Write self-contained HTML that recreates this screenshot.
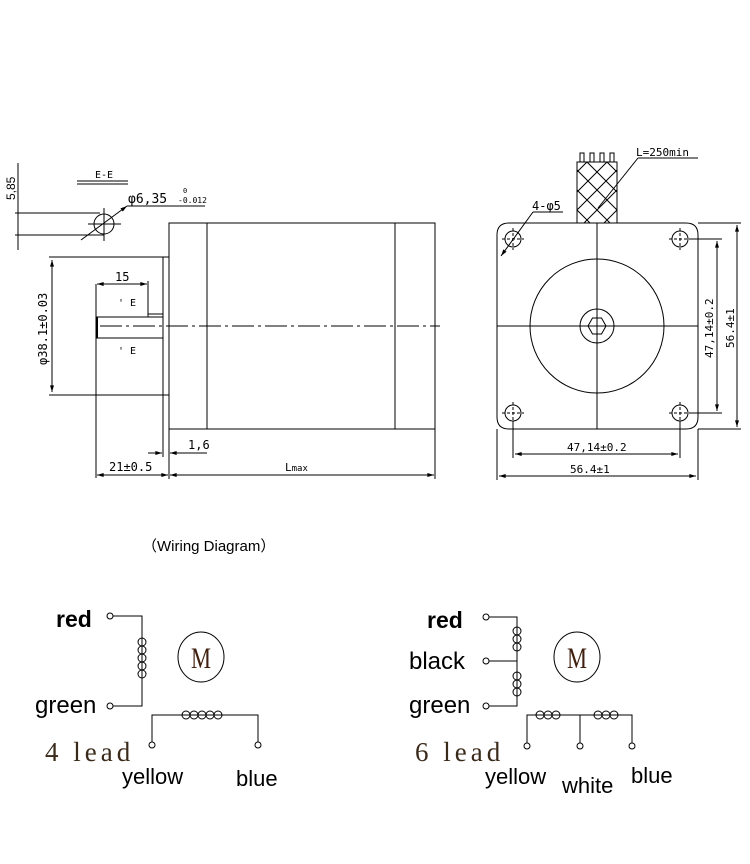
<!DOCTYPE html>
<html><head><meta charset="utf-8"><style>
html,body{margin:0;padding:0;background:#fff;}
svg{display:block;}
.d{font-family:"DejaVu Sans Mono","Liberation Mono",monospace;font-size:11px;fill:#000;}
.w{font-family:"Liberation Sans",Arial,sans-serif;fill:#000;}
.s{font-family:"Liberation Serif",serif;fill:#3a2a1a;}
</style></head><body>
<svg width="750" height="864" viewBox="0 0 750 864" xmlns="http://www.w3.org/2000/svg">
<defs>
<marker id="a" viewBox="0 0 10 6" refX="10" refY="3" markerWidth="8" markerHeight="4" orient="auto-start-reverse"><path d="M0,0 L10,3 L0,6z" fill="#000"/></marker>
</defs>
<g stroke="#000" stroke-width="1" fill="none">
<rect x="169" y="223" width="266" height="206"/>
<line x1="207" y1="223" x2="207" y2="429"/>
<line x1="395" y1="223" x2="395" y2="429"/>
<line x1="163" y1="257" x2="163" y2="395"/>
<line x1="163" y1="257" x2="169" y2="257"/>
<line x1="163" y1="395" x2="169" y2="395"/>
<path d="M163,317 H96 V338 H163 M148,317 V314 H163"/>
<line x1="97" y1="317" x2="97" y2="338" stroke-width="2"/>
<line x1="100" y1="326" x2="440" y2="326" stroke-dasharray="22,4,3,4"/>
<line x1="49" y1="257" x2="163" y2="257"/>
<line x1="49" y1="395" x2="163" y2="395"/>
<line x1="52" y1="260" x2="52" y2="392" marker-start="url(#a)" marker-end="url(#a)"/>
<line x1="96" y1="284" x2="96" y2="478"/>
<line x1="148" y1="281" x2="148" y2="314"/>
<line x1="97" y1="284" x2="147" y2="284" marker-start="url(#a)" marker-end="url(#a)"/>
<line x1="163" y1="395" x2="163" y2="457"/>
<line x1="169" y1="429" x2="169" y2="479"/>
<line x1="435" y1="429" x2="435" y2="479"/>
<line x1="148" y1="453" x2="162" y2="453" marker-end="url(#a)"/>
<line x1="170" y1="453" x2="207" y2="453" marker-start="url(#a)"/>
<line x1="97" y1="475" x2="168" y2="475" marker-start="url(#a)" marker-end="url(#a)"/>
<line x1="170" y1="475" x2="434" y2="475" marker-start="url(#a)" marker-end="url(#a)"/>
<line x1="77" y1="181" x2="128" y2="181"/>
<line x1="77" y1="184" x2="128" y2="184"/>
<line x1="18" y1="163" x2="18" y2="250"/>
<line x1="15" y1="213" x2="100" y2="213"/>
<line x1="15" y1="235" x2="104" y2="235"/>
<circle cx="104" cy="224" r="10"/>
<line x1="104" y1="208" x2="104" y2="241"/>
<line x1="88" y1="224" x2="121" y2="224"/>
<line x1="81" y1="240" x2="127" y2="206" marker-end="url(#a)"/>
<line x1="127" y1="206" x2="205" y2="206"/>
<path d="M509,223 H686 Q698,223 698,235 V417 Q698,429 686,429 H509 Q497,429 497,417 V235 Q497,223 509,223z"/>
<line x1="497" y1="326" x2="698" y2="326"/>
<line x1="597" y1="223" x2="597" y2="429"/>
<circle cx="597" cy="326" r="67"/>
<circle cx="597" cy="326" r="17"/>
<polygon points="606,326 601.5,334 592.5,334 588,326 592.5,318 601.5,318"/>
<circle cx="513" cy="239" r="8"/><circle cx="680" cy="239" r="8"/>
<circle cx="513" cy="413" r="8"/><circle cx="680" cy="413" r="8"/>
<path d="M502,239H524M513,228V250M669,239H691M680,228V250M502,413H524M513,402V424M669,413H691M680,402V424" stroke-dasharray="3,2"/>
<rect x="577" y="162" width="40" height="61"/>
<path d="M577,170 L617,210 M577,190 L610,223 M577,210 L590,223 M587,162 L617,192 M607,162 L617,172 M617,170 L577,210 M617,190 L584,223 M617,210 L604,223 M607,162 L577,192 M587,162 L577,172"/>
<path d="M580,162V153h4v9M590,162V153h4v9M600,162V153h4v9M610,162V153h4v9"/>
<line x1="598" y1="208" x2="638" y2="158"/>
<line x1="638" y1="158" x2="698" y2="158"/>
<line x1="501" y1="256" x2="533" y2="212" marker-start="url(#a)"/>
<line x1="533" y1="212" x2="563" y2="212"/>
<line x1="690" y1="239" x2="722" y2="239"/>
<line x1="690" y1="413" x2="722" y2="413"/>
<line x1="698" y1="223" x2="741" y2="223"/>
<line x1="698" y1="429" x2="741" y2="429"/>
<line x1="717" y1="241" x2="717" y2="411" marker-start="url(#a)" marker-end="url(#a)"/>
<line x1="737" y1="225" x2="737" y2="427" marker-start="url(#a)" marker-end="url(#a)"/>
<line x1="513" y1="421" x2="513" y2="458"/>
<line x1="680" y1="421" x2="680" y2="458"/>
<line x1="497" y1="429" x2="497" y2="480"/>
<line x1="698" y1="429" x2="698" y2="480"/>
<line x1="515" y1="454" x2="678" y2="454" marker-start="url(#a)" marker-end="url(#a)"/>
<line x1="499" y1="476" x2="696" y2="476" marker-start="url(#a)" marker-end="url(#a)"/>
<path d="M113,616 H142 V706 H113"/>
<circle cx="110" cy="616" r="3"/><circle cx="110" cy="706" r="3"/>
<circle cx="142" cy="642" r="4"/><circle cx="142" cy="650" r="4"/><circle cx="142" cy="658" r="4"/><circle cx="142" cy="666" r="4"/><circle cx="142" cy="674" r="4"/>
<ellipse cx="201" cy="657" rx="23" ry="25"/>
<path d="M152,742 V715 H258 V742"/>
<circle cx="152" cy="745" r="3"/><circle cx="258" cy="745" r="3"/>
<circle cx="186" cy="715" r="4"/><circle cx="194" cy="715" r="4"/><circle cx="202" cy="715" r="4"/><circle cx="210" cy="715" r="4"/><circle cx="218" cy="715" r="4"/>
<path d="M489,617 H517 V706 H489 M489,661 H517"/>
<circle cx="486" cy="617" r="3"/><circle cx="486" cy="661" r="3"/><circle cx="486" cy="706" r="3"/>
<circle cx="517" cy="631" r="4"/><circle cx="517" cy="639" r="4"/><circle cx="517" cy="647" r="4"/>
<circle cx="517" cy="676" r="4"/><circle cx="517" cy="684" r="4"/><circle cx="517" cy="692" r="4"/>
<ellipse cx="577" cy="657" rx="23" ry="25"/>
<path d="M527,743 V715 H632 V743 M580,715 V743"/>
<circle cx="527" cy="746" r="3"/><circle cx="580" cy="746" r="3"/><circle cx="632" cy="746" r="3"/>
<circle cx="540" cy="715" r="4"/><circle cx="548" cy="715" r="4"/><circle cx="556" cy="715" r="4"/>
<circle cx="598" cy="715" r="4"/><circle cx="606" cy="715" r="4"/><circle cx="614" cy="715" r="4"/>
</g>
<g class="d">
<text x="95" y="178" font-size="10">E-E</text>
<text x="128" y="203" font-size="13">φ6,35</text>
<text x="183" y="193" font-size="7">0</text>
<text x="178" y="203" font-size="8">-0.012</text>
<text transform="translate(15,200) rotate(-90)" font-family="Liberation Sans" font-size="12">5,85</text>
<text transform="translate(47,365) rotate(-90)" font-size="12">φ38.1±0.03</text>
<text x="115" y="281" font-size="12">15</text>
<text x="118" y="306" font-size="10">' E</text>
<text x="118" y="354" font-size="10">' E</text>
<text x="188" y="449" font-size="12">1,6</text>
<text x="109" y="471" font-size="12">21±0.5</text>
<text x="285" y="471" font-size="11">L<tspan font-size="9">max</tspan></text>
<text x="636" y="156" font-size="11">L=250min</text>
<text x="532" y="210" font-size="12">4-φ5</text>
<text x="567" y="451" font-size="11">47,14±0.2</text>
<text x="570" y="473" font-size="11">56.4±1</text>
<text transform="translate(713,358) rotate(-90)" font-size="11">47,14±0.2</text>
<text transform="translate(734,348) rotate(-90)" font-size="11">56.4±1</text>
</g>
<text class="w" x="142" y="551" font-size="15">（Wiring Diagram）</text>
<text x="201" y="668" font-family="Liberation Serif,serif" font-size="30" text-anchor="middle" fill="#402010" transform="translate(201,0) scale(0.75,1) translate(-201,0)">M</text>
<text x="577" y="668" font-family="Liberation Serif,serif" font-size="30" text-anchor="middle" fill="#402010" transform="translate(577,0) scale(0.75,1) translate(-577,0)">M</text>
<g class="w" font-size="24">
<text x="56" y="627" font-weight="bold" font-size="23">red</text>
<text x="35" y="713">green</text>
<text x="122" y="784" font-size="22">yellow</text>
<text x="236" y="786" font-size="22">blue</text>
<text x="427" y="628" font-weight="bold" font-size="23">red</text>
<text x="409" y="669">black</text>
<text x="409" y="713">green</text>
<text x="485" y="784" font-size="22">yellow</text>
<text x="562" y="793" font-size="22">white</text>
<text x="631" y="783" font-size="22">blue</text>
</g>
<text class="s" x="45" y="761" font-size="27" letter-spacing="4">4 lead</text>
<text class="s" x="415" y="761" font-size="27" letter-spacing="4">6 lead</text>
</svg>
</body></html>
